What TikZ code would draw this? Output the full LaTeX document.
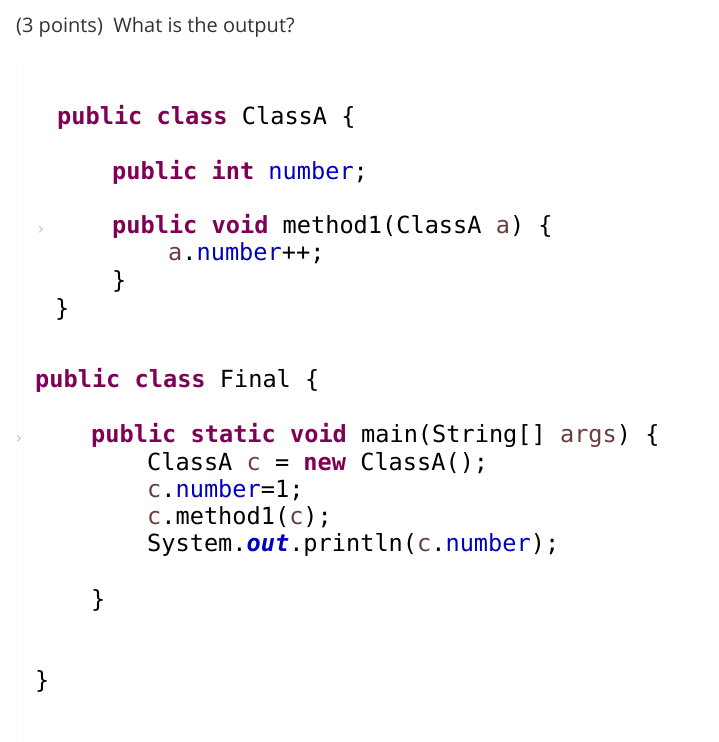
\documentclass[tikz,border=0pt]{standalone}
\usepackage{fontspec}
\setmainfont{Open Sans}
\newfontfamily\codefont{DejaVu Sans Mono}[Scale=1]
\newfontfamily\markfont{DejaVu Sans}
\definecolor{kw}{HTML}{7F0055}
\definecolor{fld}{HTML}{0000C0}
\definecolor{loc}{HTML}{6A3E3E}
\definecolor{hdr}{HTML}{333333}
\newcommand{\K}[1]{\textbf{\color{kw}#1}}
\newcommand{\F}[1]{\textcolor{fld}{#1}}
\newcommand{\V}[1]{\textcolor{loc}{#1}}
\begin{document}
\begin{tikzpicture}[x=1pt,y=-1pt,
  code/.style={anchor=mid west,inner sep=0,font=\codefont\fontsize{23.6}{23.6}\selectfont},
  mk/.style={inner sep=0,font=\markfont\fontsize{16}{16}\selectfont,text=gray!50}]
\fill[white] (0,0) rectangle (718,742);
\useasboundingbox (0,0) rectangle (718,742);
\draw[gray!4] (23,60) -- (23,742);
\node[anchor=mid west,inner sep=0,text=hdr,font=\fontsize{20}{20}\selectfont] (h) at (16,30) {(3 points)\ \ What is the output?};
\node[code] (l1) at (57,122) {\K{public class} ClassA \{};
\node[code] (l2) at (112,177) {\K{public int} \F{number};};
\node[mk] (m1) at (41,230) {›};
\node[code] (l3) at (112,231) {\K{public void} method1(ClassA \V{a}) \{};
\node[code] (l4) at (168,258) {\V{a}.\F{number}++;};
\node[code] (l5) at (112,286) {\}};
\node[code] (l6) at (55,314) {\}};
\node[code] (l7) at (35,385) {\K{public class} Final \{};
\node[mk] (m2) at (19,439) {›};
\node[code] (l8) at (91,440) {\K{public static void} main(String[] \V{args}) \{};
\node[code] (l9) at (147,468) {ClassA \V{c} = \K{new} ClassA();};
\node[code] (l10) at (147,495) {\V{c}.\F{number}=1;};
\node[code] (l11) at (147,522) {\V{c}.method1(\V{c});};
\node[code] (l12) at (147,549) {System.\textcolor{fld}{\bfseries\itshape out}.println(\V{c}.\F{number});};
\node[code] (l13) at (91,605) {\}};
\node[code] (l14) at (35,686) {\}};
\end{tikzpicture}
\end{document}
